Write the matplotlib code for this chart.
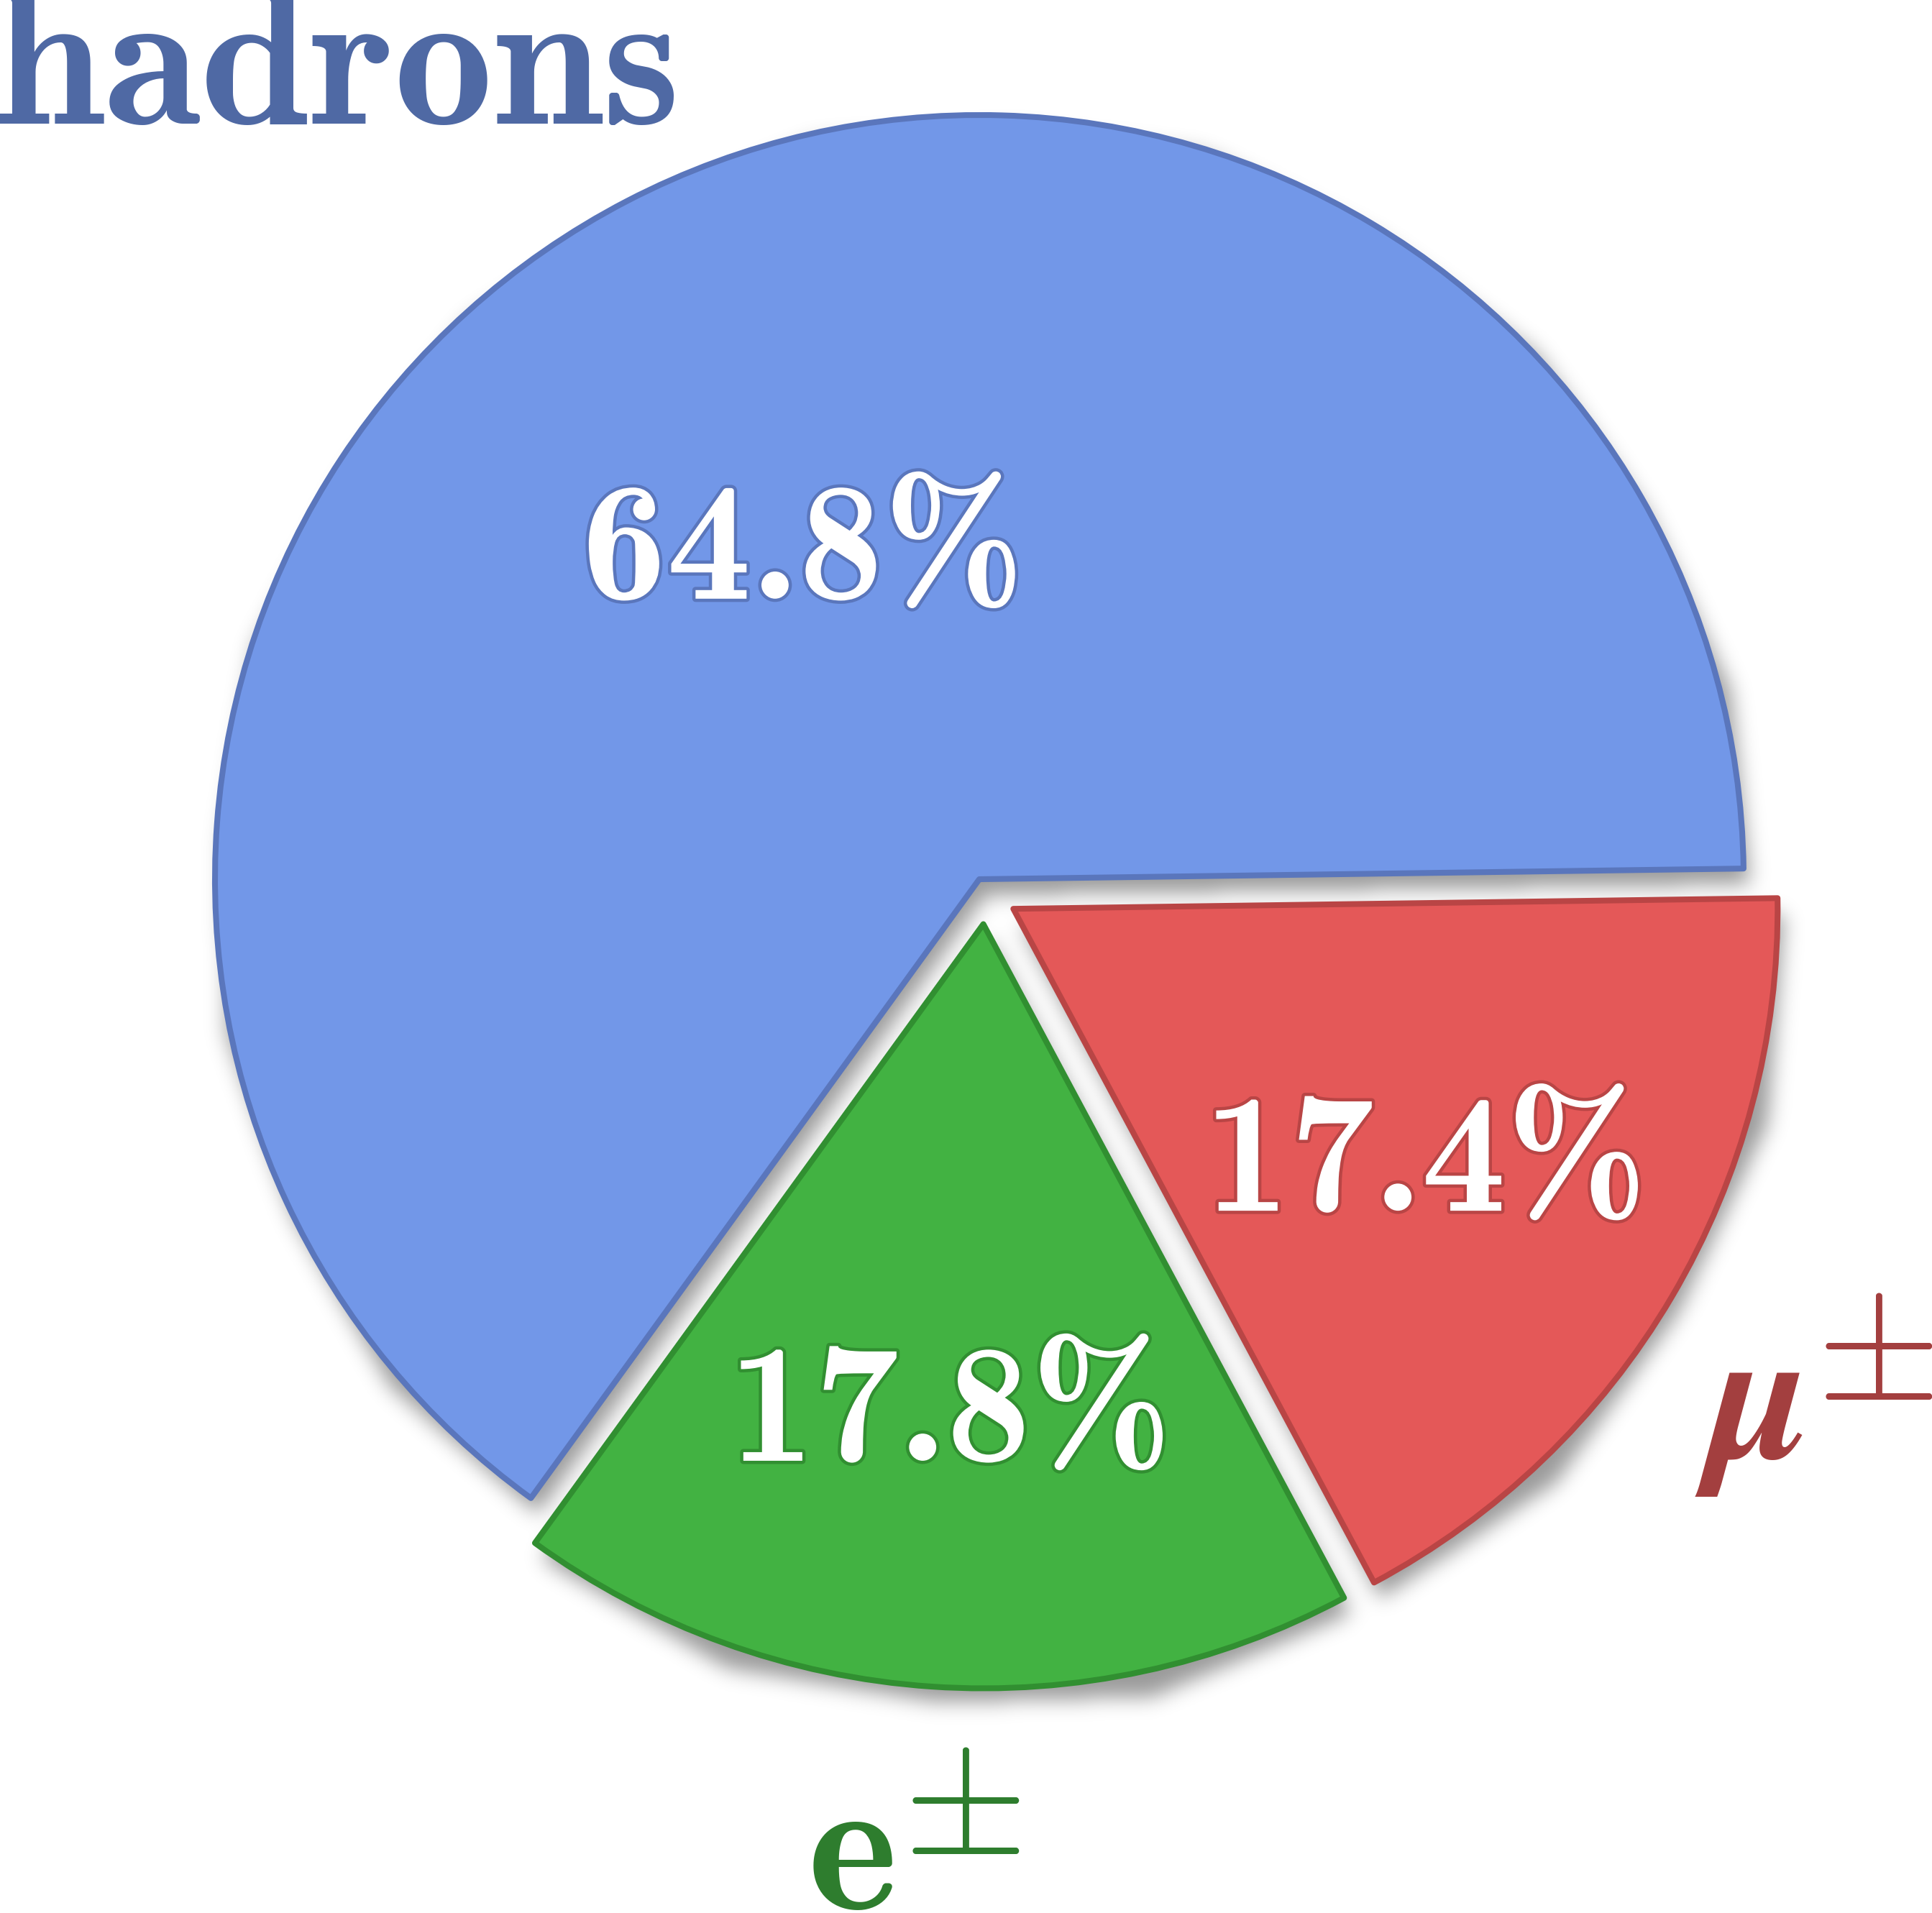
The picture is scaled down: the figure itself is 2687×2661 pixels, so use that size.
import numpy as np
import matplotlib
matplotlib.use("Agg")
import matplotlib.pyplot as plt
import matplotlib.patheffects as pe

plt.rcParams["mathtext.fontset"] = "cm"

# ---- data ----
categories = ["hadrons", "e", "mu"]
shares = [64.8, 17.8, 17.4]
pct_labels = ["64.8%", "17.8%", "17.4%"]
cat_main = [r"hadrons", r"e", r"$\boldsymbol{\mu}$"]
cat_sup = [None, r"$\pm$", r"$\pm$"]
explode = [0.0, 0.059, 0.059]
explode_rot = [0.0, 9.0, -10.5]  # deg, direction tweak of the offset

fill_colors = ["#7297e8", "#42b242", "#e45858"]
edge_colors = ["#5a76bc", "#318f31", "#b94545"]
label_colors = ["#4f69a4", "#2e7d2e", "#a33f3f"]

# ---- layout (pixels) ----
W, H, DPI = 2687, 2661, 100
R_PX = 1063.0
CX, CY = 1362.0, 1223.0


def px2d(xp, yp):
    return (xp - CX) / R_PX, (CY - yp) / R_PX


fig = plt.figure(figsize=(W / DPI, H / DPI), dpi=DPI)
ax = fig.add_axes([0, 0, 1, 1])

wedges, _ = ax.pie(
    shares, startangle=0.8, counterclock=True, radius=1.0,
    colors=fill_colors,
    wedgeprops=dict(linewidth=5.8, joinstyle="round", zorder=3),
)
for w, ec, ex, rot in zip(wedges, edge_colors, explode, explode_rot):
    w.set_edgecolor(ec)
    if ex:
        th = np.deg2rad(0.5 * (w.theta1 + w.theta2) + rot)
        w.set_center((ex * np.cos(th), ex * np.sin(th)))

x0, x1 = px2d(0, 0)[0], px2d(W, 0)[0]
y1, y0 = px2d(0, 0)[1], px2d(0, H)[1]
ax.set_xlim(x0, x1)
ax.set_ylim(y0, y1)
ax.set_aspect("equal")
ax.axis("off")

# ---- soft shadow: blurred union of the wedges ----
step = 3
gx = np.arange(0, W, step) + step / 2
gy = np.arange(0, H, step) + step / 2
GX, GY = np.meshgrid(gx, gy)
sh_dx, sh_dy = 10.0, 22.0  # shadow offset (px, down-right)
pts_x = (GX - sh_dx - CX) / R_PX
pts_y = (CY - (GY - sh_dy)) / R_PX
pts = np.column_stack([pts_x.ravel(), pts_y.ravel()])
mask = np.zeros(pts.shape[0], dtype=float)
for w in wedges:
    path = w.get_path().transformed(w.get_patch_transform())
    mask = np.maximum(mask, path.contains_points(pts).astype(float))
mask = mask.reshape(GX.shape)

sigma = 14.0 / step
k = np.arange(-int(3 * sigma), int(3 * sigma) + 1)
kern = np.exp(-0.5 * (k / sigma) ** 2)
kern /= kern.sum()
blur = np.apply_along_axis(lambda r: np.convolve(r, kern, mode="same"), 1, mask)
blur = np.apply_along_axis(lambda c: np.convolve(c, kern, mode="same"), 0, blur)
rgba = np.zeros(blur.shape + (4,))
rgba[..., 3] = np.clip(blur, 0, 1) * 0.40
ax.imshow(rgba, extent=(x0, x1, y0, y1), origin="upper", zorder=1,
          interpolation="bilinear", aspect="auto")

# ---- percentage labels ----
pct_dist = [0.5, 0.627, 0.627]
pct_drop = 23.0 / R_PX
for w, txt, ec, d in zip(wedges, pct_labels, edge_colors, pct_dist):
    th = np.deg2rad(0.5 * (w.theta1 + w.theta2))
    cx, cy = w.center
    ax.text(cx + d * np.cos(th), cy + d * np.sin(th) - pct_drop, txt,
            family="cmb10", ha="center", va="center", color="white",
            fontsize=170, zorder=5,
            path_effects=[pe.withStroke(linewidth=6.5, foreground=ec)])

# ---- category labels ----
main_pos_px = [(-8, 172), (1124, 2655), (2357, 2028)]
main_size = [198, 192, 190]
sup_pos_px = [None, (1256, 2579), (2526, 1947)]
for i, col in enumerate(label_colors):
    x, y = px2d(*main_pos_px[i])
    kw = dict(family="cmb10") if not cat_main[i].startswith("$") else {}
    ax.text(x, y, cat_main[i], ha="left", va="baseline", color=col,
            fontsize=main_size[i], zorder=5, **kw)
    if cat_sup[i]:
        x, y = px2d(*sup_pos_px[i])
        ax.text(x, y, cat_sup[i], ha="left", va="baseline", color=col,
                fontsize=160, zorder=5)

fig.savefig("out.png", dpi=DPI)
